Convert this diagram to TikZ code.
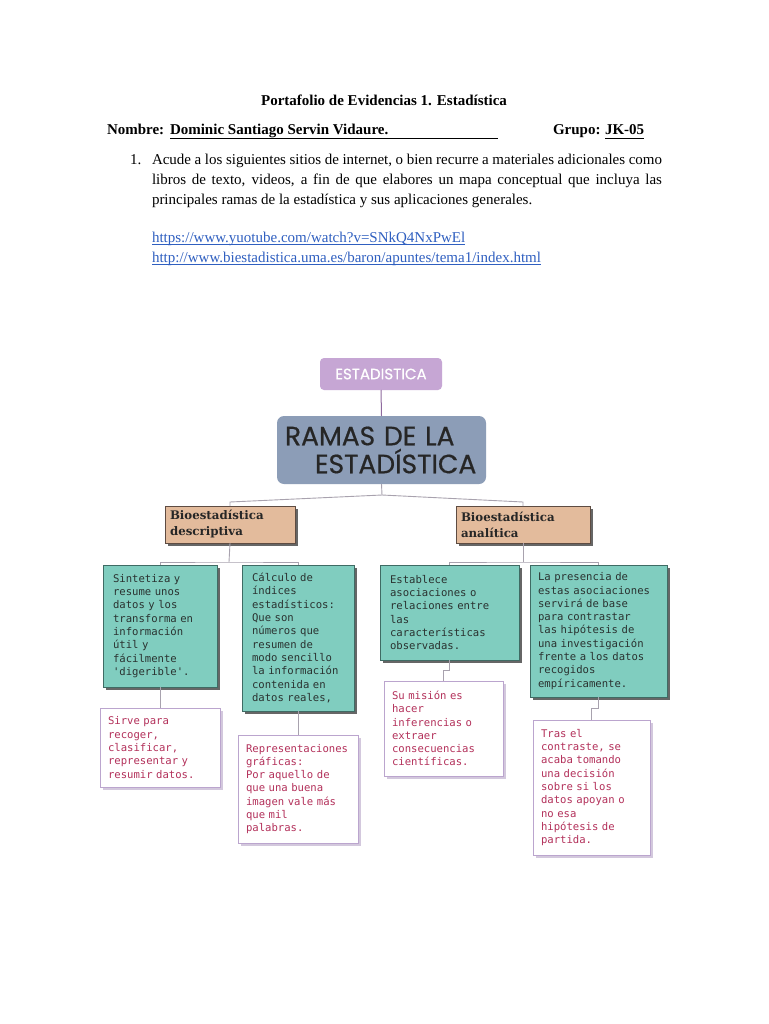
\documentclass[tikz,border=0pt]{standalone}
\usepackage{fontspec}
\setmainfont{Liberation Serif}
\newfontfamily\popfont[FakeBold=0.6]{Poppins}
\newfontfamily\monofont{DejaVu Sans Mono}
\newfontfamily\slabfont{DejaVu Serif}
\usetikzlibrary{shadows}
\definecolor{linkblue}{HTML}{2F5FC0}
\definecolor{purplebox}{HTML}{C6A6D4}
\definecolor{purpleline}{HTML}{8E6A9E}
\definecolor{ramasfill}{HTML}{8C9DB7}
\definecolor{tanfill}{HTML}{E3BB9C}
\definecolor{tanborder}{HTML}{5E4C42}
\definecolor{tealfill}{HTML}{80CDBF}
\definecolor{tealborder}{HTML}{3F6B64}
\definecolor{shadowgray}{HTML}{666666}
\definecolor{whiteborder}{HTML}{BBA5CE}
\definecolor{whiteshadow}{HTML}{D3C8DD}
\definecolor{conngray}{HTML}{A8A2AE}
\definecolor{pinktext}{HTML}{B3305A}
\definecolor{darktext}{HTML}{2A3230}
\begin{document}
\begin{tikzpicture}[x=1pt,y=-1pt,
  every node/.style={inner sep=0pt, outer sep=0pt},
  hdr/.style={font=\fontsize{15}{20}\selectfont},
  ulink/.style={draw=linkblue, line width=0.8pt},
  uline/.style={draw=black, line width=1.1pt},
  tanbox/.style={draw=tanborder, fill=tanfill, line width=0.8pt, anchor=north west,
    drop shadow={shadow xshift=2.5pt, shadow yshift=-2.5pt, fill=shadowgray, opacity=1},
    inner xsep=5pt, align=left, font=\slabfont\bfseries\fontsize{11.8}{16}\selectfont, text=black!85},
  tealbox/.style={draw=tealborder, fill=tealfill, line width=0.8pt, anchor=north west,
    drop shadow={shadow xshift=2.5pt, shadow yshift=-2.5pt, fill=shadowgray, opacity=1},
    inner xsep=10pt, align=left, font=\monofont\fontsize{10.6}{13.3}\selectfont, text=darktext},
  notebox/.style={draw=whiteborder, fill=white, line width=0.8pt, anchor=north west,
    drop shadow={shadow xshift=2.5pt, shadow yshift=-2.5pt, fill=whiteshadow, opacity=1},
    inner xsep=8pt, align=left, font=\monofont\fontsize{10.6}{13.3}\selectfont, text=pinktext},
  conn/.style={draw=conngray, line width=0.9pt}
]
\useasboundingbox[fill=white] (0,0) rectangle (768,1024);

% ---------- header ----------
\node[hdr, anchor=base] (title) at (384,106) {\bfseries Portafolio de Evidencias 1. Estadística};
\node[hdr, anchor=base west] (nomlbl) at (107,135) {\bfseries Nombre:};
\node[hdr, anchor=base west] (nom) at (170,135) {\bfseries Dominic Santiago Servin Vidaure.};
\coordinate (nomend) at (498,138.5);
\draw[uline] (nom.base west) ++(0,3.5) coordinate (nomstart) -- (nomstart -| nomend);
\node[hdr, anchor=base west] (grplbl) at (553,135) {\bfseries Grupo:};
\node[hdr, anchor=base west] (grp) at (605,135) {\bfseries JK-05};
\draw[uline] ([yshift=-3.5pt]grp.base west) -- ([yshift=-3.5pt]grp.base east);

\node[hdr, anchor=base west] (num) at (130,165) {1.};
\node[hdr, anchor=north west, text width=510pt, align=justify] (para) at (152,154.5)
 {Acude a los siguientes sitios de internet, o bien recurre a materiales adicionales como\linebreak
  libros de texto, videos, a fin de que elabores un mapa conceptual que incluya las\linebreak
  principales ramas de la estadística y sus aplicaciones generales.};

\node[hdr, anchor=base west, text=linkblue] (link1) at (152,242) {https://www.yuotube.com/watch?v=SNkQ4NxPwEl};
\draw[ulink] ([yshift=-2.5pt]link1.base west) -- ([yshift=-2.5pt]link1.base east);
\node[hdr, anchor=base west, text=linkblue] (link2) at (152,262) {http://www.biestadistica.uma.es/baron/apuntes/tema1/index.html};
\draw[ulink] ([yshift=-2.5pt]link2.base west) -- ([yshift=-2.5pt]link2.base east);

% ---------- diagram ----------
\node[fill=purplebox, rounded corners=4pt, minimum width=122pt, minimum height=32pt,
  anchor=north west, font=\popfont\fontsize{15}{17}\selectfont, text=white] (est) at (320,358) {ESTADISTICA};
\node[fill=ramasfill, rounded corners=7pt, minimum width=209pt, minimum height=68pt,
  text width=193pt, inner xsep=8pt,
  anchor=north west, align=left, font=\popfont\fontsize{26.5}{28}\selectfont, text=black!85] (ramas) at (277,416)
  {RAMAS DE LA\\\hspace*{30pt}ESTADÍSTICA};
\draw[draw=purpleline, line width=1pt] (est.south) -- (ramas.north);

\node[tanbox, minimum width=130pt, minimum height=37pt, text width=120pt] (desc) at (165,506)
  {Bioestadística\\descriptiva};
\node[tanbox, minimum width=134pt, minimum height=37pt, text width=124pt] (anal) at (456,506)
  {Bioestadística\\analítica};

\coordinate (jtop) at (382,495);
\draw[conn] (ramas.south) -- (jtop);
\draw[conn] (jtop) -- ([yshift=4pt]desc.north) -- (desc.north);
\draw[conn] (jtop) -- ([yshift=4pt]anal.north) -- (anal.north);

% teal boxes
\node[tealbox, minimum width=114pt, minimum height=122pt, text width=94pt] (t1) at (103,565)
  {Sintetiza y\\resume unos\\datos y los\\transforma en\\información\\útil y\\fácilmente\\'digerible'.};
\node[tealbox, minimum width=112pt, minimum height=146pt, text width=92pt] (t2) at (242,565)
  {Cálculo de\\índices\\estadísticos:\\Que son\\números que\\resumen de\\modo sencillo\\la información\\contenida en\\datos reales,};
\node[tealbox, minimum width=139pt, minimum height=95pt, text width=119pt] (t3) at (380,565)
  {Establece\\asociaciones o\\relaciones entre\\las\\características\\observadas.};
\node[tealbox, minimum width=137pt, minimum height=132pt, text width=121pt, inner xsep=8pt] (t4) at (530,565)
  {La presencia de\\estas asociaciones\\servirá de base\\para contrastar\\las hipótesis de\\una investigación\\frente a los datos\\recogidos\\empíricamente.};

\coordinate (jl) at (229,562);
\coordinate (jr) at (523,562);
\draw[conn] (desc.south) -- (jl);
\draw[conn] (t1.north) |- (jl) -| (t2.north);
\draw[conn] (anal.south) -- (jr);
\draw[conn] (t3.north) |- (jr) -| (t4.north);

% note boxes
\node[notebox, minimum width=120pt, minimum height=79pt, text width=104pt] (w1) at (100,708)
  {Sirve para\\recoger,\\clasificar,\\representar y\\resumir datos.};
\node[notebox, minimum width=120pt, minimum height=108pt, text width=104pt] (w2) at (238,735)
  {Representaciones\\gráficas:\\Por aquello de\\que una buena\\imagen vale más\\que mil\\palabras.};
\node[notebox, minimum width=119pt, minimum height=95pt, text width=103pt] (w3) at (384,681)
  {Su misión es\\hacer\\inferencias o\\extraer\\consecuencias\\científicas.};
\node[notebox, minimum width=117pt, minimum height=135pt, text width=101pt] (w4) at (533,720)
  {Tras el\\contraste, se\\acaba tomando\\una decisión\\sobre si los\\datos apoyan o\\no esa\\hipótesis de\\partida.};

\draw[conn] (t1.south -| w1.north) -- (w1.north);
\draw[conn] (t2.south) -- (w2.north -| t2.south);
\draw[conn] (t3.south) -- ++(0,10) -| (w3.north);
\draw[conn] (t4.south) -- ++(0,11) -| (w4.north);
\end{tikzpicture}
\end{document}
